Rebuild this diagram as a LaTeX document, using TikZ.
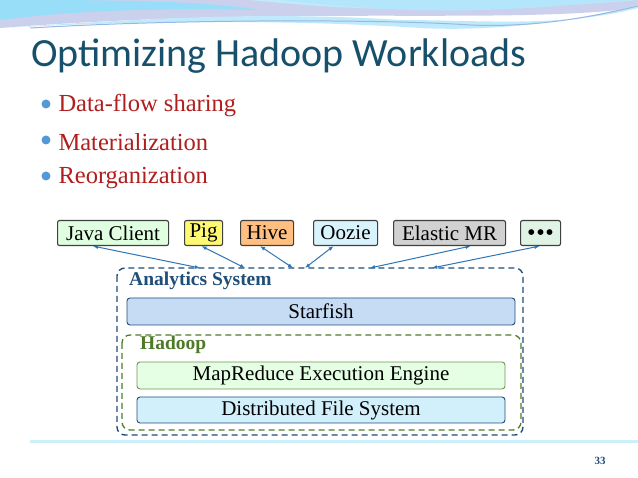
\documentclass[tikz,border=0pt]{standalone}
\usepackage{fontspec}
\setmainfont{Liberation Serif}
\newfontfamily\titlefont{Carlito}
\newfontfamily\dotfont{DejaVu Sans}
\usetikzlibrary{arrows.meta}
\definecolor{ttl}{HTML}{17506B}
\definecolor{bul}{HTML}{B01E1E}
\definecolor{asb}{HTML}{1F4E79}
\definecolor{hdg}{HTML}{4F7A28}
\definecolor{arr}{HTML}{2E75B6}
\definecolor{starfill}{HTML}{C6DCF5}
\tikzset{
  tool/.style={draw=black!75,rounded corners=2pt,line width=1.1pt,inner sep=0pt,font=\fontsize{21}{21}\selectfont,anchor=north west},
  layer/.style={rounded corners=3pt,line width=0.9pt,font=\fontsize{21}{21}\selectfont},
  conn/.style={{Latex[length=5pt,width=4pt]}-{Latex[length=5pt,width=4pt]},draw=arr,line width=1pt},
  bultxt/.style={anchor=west,text=bul,font=\fontsize{24.5}{24.5}\selectfont}
}
\begin{document}
\begin{tikzpicture}[x=1pt,y=-1pt]
\useasboundingbox (0,0) rectangle (638,478);
\fill[white] (0,0) rectangle (638,478);
% header wave
\fill[cyan!35!blue!20] (0,0) -- (638,0) -- (638,8) .. controls (500,25) and (300,5) .. (0,28) -- cycle;
\fill[cyan!25] (0,28) .. controls (150,20) and (300,20) .. (420,28) .. controls (500,32) and (580,20) .. (638,5) -- (638,0) -- (250,0) .. controls (350,10) and (450,15) .. (638,0) -- (638,8) .. controls (560,28) and (480,20) .. (400,20) .. controls (250,10) and (100,22) .. (0,28) -- cycle;
\fill[cyan!40] (0,20) .. controls (80,10) and (160,8) .. (260,10) .. controls (200,0) and (100,0) .. (0,0) -- cycle;
\draw[cyan!50!blue!40,line width=1pt] (30,28) .. controls (200,18) and (400,20) .. (470,25) .. controls (540,28) and (600,15) .. (638,6);
\fill[cyan!30] (280,0) .. controls (350,8) and (420,12) .. (480,10) .. controls (560,8) and (610,0) .. (638,0) -- cycle;
% title
\node[anchor=base west,inner sep=0pt,text=ttl,font=\titlefont\fontsize{40}{40}\selectfont] (title) at (31,67) {Optimizing Hadoop Workloads};
% bullets
\foreach \y/\t [count=\i] in {104/Data-flow sharing,140/Materialization,176/Reorganization}{
  \fill[cyan!60!blue!70] (46,\y) circle (4.5);
  \node[bultxt] (b\i) at (55,\y+2) {\t};
}
% tools
\node[tool,fill=green!12,minimum width=111,minimum height=25] (java) at (57,220) {Java Client};
\node[tool,fill=yellow!55,minimum width=38,minimum height=25] (pig) at (184,220) {Pig};
\node[tool,fill=orange!50,minimum width=53,minimum height=25] (hive) at (240,220) {Hive};
\node[tool,fill=cyan!15,minimum width=64,minimum height=25] (oozie) at (313,220) {Oozie};
\node[tool,fill=black!18,minimum width=112,minimum height=25] (emr) at (393,220) {Elastic MR};
\node[tool,fill=cyan!20!green!12,minimum width=40,minimum height=25,font=\dotfont\fontsize{7.5}{7.5}\selectfont] (dots) at (520,220) {●\hspace{2.5pt}●\hspace{2.5pt}●};
% analytics box
\draw[asb,dashed,line width=1.4pt,dash pattern=on 6pt off 4pt,rounded corners=8pt] (117,268) rectangle (523,435);
\coordinate (a1) at (200,268);\coordinate (a2) at (245,268);\coordinate (a3) at (293,268);
\coordinate (a4) at (305,268);\coordinate (a5) at (370,268);\coordinate (a6) at (432,268);
\draw[conn] ([xshift=-20]java.south) -- (a1);
\draw[conn] ([xshift=-2]pig.south) -- (a2);
\draw[conn] ([xshift=-7]hive.south) -- (a3);
\draw[conn] ([xshift=-12]oozie.south) -- (a4);
\draw[conn] ([xshift=21]emr.south) -- (a5);
\draw[conn] ([xshift=-1]dots.south) -- (a6);
\node[anchor=west,inner sep=0pt,text=asb,font=\bfseries\fontsize{19.5}{19.5}\selectfont] (as) at (129,281) {Analytics System};
\node[layer,draw=asb,fill=starfill,minimum width=388,minimum height=27] (star) at (321,311.5) {Starfish};
\draw[hdg,dashed,line width=1.3pt,dash pattern=on 6pt off 4pt,rounded corners=8pt] (122,335) rectangle (521,430);
\node[anchor=west,inner sep=0pt,text=hdg,font=\bfseries\fontsize{19.5}{19.5}\selectfont] (hd) at (140,345) {Hadoop};
\node[layer,draw=hdg!80,fill=green!10,minimum width=368,minimum height=27] (mr) at (321,375.5) {MapReduce Execution Engine};
\node[layer,draw=asb,fill=cyan!18,minimum width=368,minimum height=26] (dfs) at (321,410) {Distributed File System};
% footer
\fill[cyan!20] (30,440) rectangle (638,443);
\node[text=asb,font=\bfseries\fontsize{11}{11}\selectfont] (pg) at (600,461) {33};
\end{tikzpicture}
\end{document}
